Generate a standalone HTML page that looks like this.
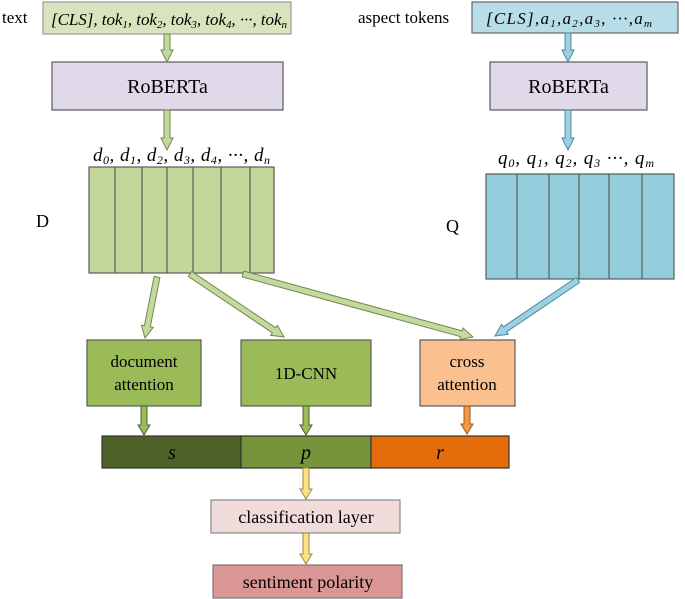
<!DOCTYPE html>
<html><head><meta charset="utf-8"><style>
html,body{margin:0;padding:0;background:#fff;}
svg{display:block;font-family:"Liberation Serif",serif;}
</style></head><body>
<svg id="s" width="685" height="599" viewBox="0 0 685 599" xmlns="http://www.w3.org/2000/svg">
<g stroke="#5a5a5a" stroke-width="1.2">
<rect x="43" y="2" width="248" height="32" fill="#d7e4bd" stroke="#999"/>
<rect x="472" y="2" width="206" height="31" fill="#b7dde8" stroke="#666"/>
<rect x="52" y="62" width="231" height="48" fill="#e0d9ea"/>
<rect x="490" y="62" width="157" height="48" fill="#e0d9ea"/>
<rect x="89" y="167" width="185" height="106" fill="#c4d79b"/>
<path d="M115 167V273M142 167V273M167 167V273M193 167V273M221 167V273M250 167V273" fill="none"/>
<rect x="486" y="174" width="188" height="105" fill="#92cddc"/>
<path d="M517 174V279M549 174V279M579 174V279M609 174V279M642 174V279" fill="none"/>
<rect x="87" y="340" width="114" height="66" fill="#9bbb59"/>
<rect x="241" y="340" width="130" height="66" fill="#9bbb59"/>
<rect x="420" y="340" width="95" height="66" fill="#fac090"/>
<rect x="102" y="436" width="139" height="32" fill="#4f6228" stroke="#333"/>
<rect x="241" y="436" width="130" height="32" fill="#77933c" stroke="#333"/>
<rect x="371" y="436" width="138" height="32" fill="#e46c0a" stroke="#333"/>
<rect x="211" y="500" width="189" height="33" fill="#f2dcdb" stroke="#888"/>
<rect x="213" y="565" width="189" height="33" fill="#d99694" stroke="#777"/>
</g>
<g id="arrows"></g>
<g font-size="15" fill="#000">
<text x="2" y="23" font-size="17">text</text>
<text x="51" y="25" font-size="17" font-style="italic" textLength="236" lengthAdjust="spacing">[CLS], tok<tspan font-size="11" dy="3">1</tspan><tspan dy="-3">, tok</tspan><tspan font-size="11" dy="3">2</tspan><tspan dy="-3">, tok</tspan><tspan font-size="11" dy="3">3</tspan><tspan dy="-3">, tok</tspan><tspan font-size="11" dy="3">4</tspan><tspan dy="-3">,  ···, tok</tspan><tspan font-size="11" dy="3">n</tspan></text>
<text x="358" y="23" font-size="17">aspect tokens</text>
<text x="486" y="24" font-size="17" font-style="italic" textLength="166" lengthAdjust="spacing">[CLS],a<tspan font-size="11" dy="3">1</tspan><tspan dy="-3">,a</tspan><tspan font-size="11" dy="3">2</tspan><tspan dy="-3">,a</tspan><tspan font-size="11" dy="3">3</tspan><tspan dy="-3">, ···,a</tspan><tspan font-size="11" dy="3">m</tspan></text>
<text x="167.5" y="93" font-size="20" text-anchor="middle">RoBERTa</text>
<text x="568.5" y="93" font-size="20" text-anchor="middle">RoBERTa</text>
<text x="93" y="161" font-size="19" font-style="italic" textLength="177" lengthAdjust="spacing">d<tspan font-size="12" dy="3">0</tspan><tspan dy="-3">, d</tspan><tspan font-size="12" dy="3">1</tspan><tspan dy="-3">, d</tspan><tspan font-size="12" dy="3">2</tspan><tspan dy="-3">, d</tspan><tspan font-size="12" dy="3">3</tspan><tspan dy="-3">, d</tspan><tspan font-size="12" dy="3">4</tspan><tspan dy="-3">,  ···, d</tspan><tspan font-size="12" dy="3">n</tspan></text>
<text x="498" y="164" font-size="19" font-style="italic" textLength="156" lengthAdjust="spacing">q<tspan font-size="12" dy="3">0</tspan><tspan dy="-3">, q</tspan><tspan font-size="12" dy="3">1</tspan><tspan dy="-3">, q</tspan><tspan font-size="12" dy="3">2</tspan><tspan dy="-3">, q</tspan><tspan font-size="12" dy="3">3</tspan><tspan dy="-3">  ···, q</tspan><tspan font-size="12" dy="3">m</tspan></text>
<text x="36" y="227" font-size="18">D</text>
<text x="446" y="232" font-size="18">Q</text>
<text x="144" y="367" text-anchor="middle" font-size="17">document</text>
<text x="144" y="390" text-anchor="middle" font-size="17">attention</text>
<text x="306" y="379" text-anchor="middle" font-size="17">1D-CNN</text>
<text x="467" y="367" text-anchor="middle" font-size="17">cross</text>
<text x="467" y="390" text-anchor="middle" font-size="17">attention</text>
<text x="172" y="459" text-anchor="middle" font-size="20" font-style="italic">s</text>
<text x="306" y="459" text-anchor="middle" font-size="20" font-style="italic">p</text>
<text x="440" y="459" text-anchor="middle" font-size="20" font-style="italic">r</text>
<text x="306" y="523" text-anchor="middle" font-size="18">classification layer</text>
<text x="308" y="588" text-anchor="middle" font-size="18">sentiment polarity</text>
</g>
<script>
(function(){
var g=document.getElementById('arrows');
function A(x1,y1,x2,y2,fill,stroke,sw,hw,hl){
 var dx=x2-x1,dy=y2-y1,L=Math.hypot(dx,dy),ux=dx/L,uy=dy/L,px=-uy,py=ux;
 var bx=x2-ux*hl,by=y2-uy*hl;
 var pts=[[x1+px*sw,y1+py*sw],[bx+px*sw,by+py*sw],[bx+px*hw,by+py*hw],[x2,y2],[bx-px*hw,by-py*hw],[bx-px*sw,by-py*sw],[x1-px*sw,y1-py*sw]];
 var p=document.createElementNS('http://www.w3.org/2000/svg','polygon');
 p.setAttribute('points',pts.map(function(q){return q[0].toFixed(1)+','+q[1].toFixed(1)}).join(' '));
 p.setAttribute('fill',fill);p.setAttribute('stroke',stroke);p.setAttribute('stroke-width','1');
 g.appendChild(p);
}
var gf='#c4d9a0',gs='#6f8a4a',bf='#9dd0e0',bs='#4a8aa0';
A(167,34,167,62,gf,gs,3,6,12);
A(167,110,167,150,gf,gs,3,6,12);
A(568,33,568,62,bf,bs,3,6,12);
A(568,110,568,150,bf,bs,3,6,12);
A(157,277,145,338,gf,gs,3,6,12);
A(190,274,284,337,gf,gs,3,6,12);
A(243,274,473,337,gf,gs,3,6,12);
A(578,280,495,336,bf,bs,3,6,12);
A(144,406,144,435,'#9bbb59','#4f6228',3,6,10);
A(306,406,306,435,'#9bbb59','#4f6228',3,6,10);
A(467,406,467,434,'#f79646','#9a5a20',3,6,10);
A(306,468,306,499,'#ffe08a','#9a8a40',3,6,10);
A(306,533,306,564,'#ffe08a','#9a8a40',3,6,10);
})();
</script>
</svg>
</body></html>
